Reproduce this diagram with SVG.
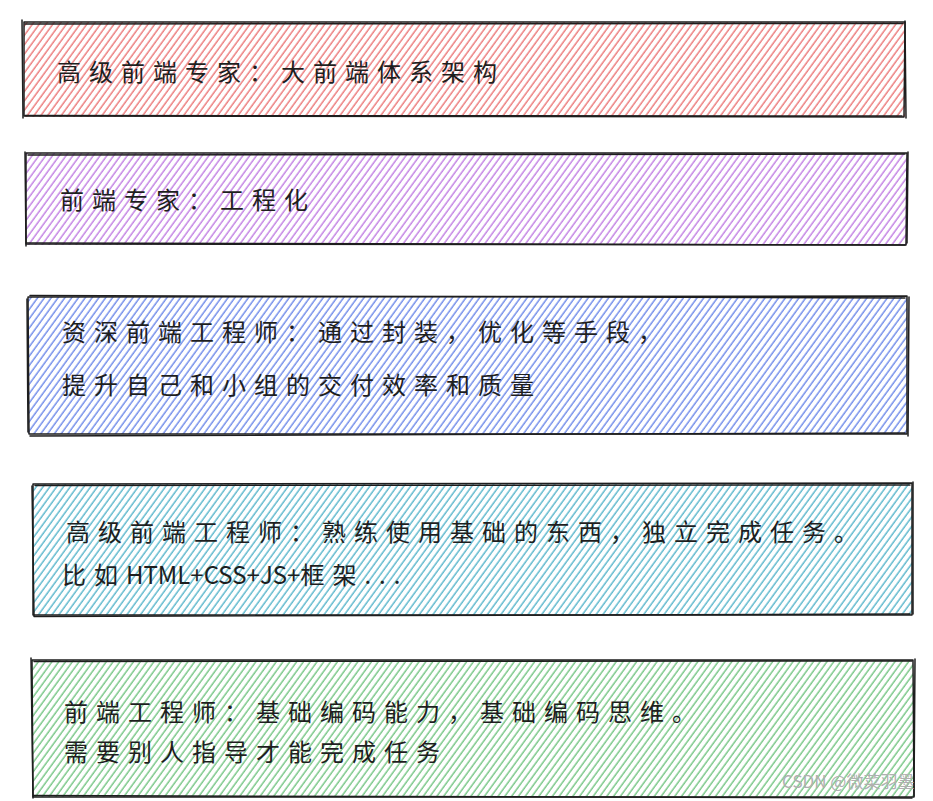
<svg xmlns="http://www.w3.org/2000/svg" width="933" height="801" viewBox="0 0 933 801">
<defs>
<pattern id="hRed" patternUnits="userSpaceOnUse" width="5.5" height="10" patternTransform="rotate(36)"><line x1="2" y1="0" x2="2" y2="10" stroke="#ec7f80" stroke-width="1.5"/></pattern>
<pattern id="hPurple" patternUnits="userSpaceOnUse" width="5.5" height="10" patternTransform="rotate(36)"><line x1="2" y1="0" x2="2" y2="10" stroke="#c486e4" stroke-width="1.5"/></pattern>
<pattern id="hBlue" patternUnits="userSpaceOnUse" width="5.5" height="10" patternTransform="rotate(36)"><line x1="2" y1="0" x2="2" y2="10" stroke="#7690ea" stroke-width="1.5"/></pattern>
<pattern id="hCyan" patternUnits="userSpaceOnUse" width="5.5" height="10" patternTransform="rotate(36)"><line x1="2" y1="0" x2="2" y2="10" stroke="#62bace" stroke-width="1.5"/></pattern>
<pattern id="hGreen" patternUnits="userSpaceOnUse" width="5.5" height="10" patternTransform="rotate(36)"><line x1="2" y1="0" x2="2" y2="10" stroke="#7cc88a" stroke-width="1.5"/></pattern>
</defs>
<style>
.b{fill:none;stroke:#1e1e1e;stroke-width:1.5;stroke-linecap:round;stroke-linejoin:round}
.t{font-family:"Noto Sans CJK SC","Liberation Sans",sans-serif;font-size:24px;letter-spacing:8px;fill:#1e1e1e}
.l{letter-spacing:0}
.wm{font-family:"Noto Sans CJK SC","Liberation Sans",sans-serif;font-size:17px;fill:#b0b0b0}
</style>
<rect width="933" height="801" fill="#ffffff"/>
<g id="node-expert-arch">
<rect x="24" y="22" width="881" height="95" fill="url(#hRed)"/>
<path class="b" d="M24 22 L905 22 L904 117 L24 116 Z"/>
<path class="b" d="M22 20 L23 118 M25 24 L903 23.5 M905 21 L906 118 M25 115.5 L902 116"/>
<text class="t" x="57" y="81">高级前端专家：大前端体系架构</text>
</g>
<g id="node-expert-eng">
<rect x="26" y="153" width="881" height="92" fill="url(#hPurple)"/>
<path class="b" d="M26 153 L907 153 L906 245 L26 244 Z"/>
<path class="b" d="M25 152 L26 246 M28 155 L905 154 M908 152 L907 243 M27 243 L905 245"/>
<text class="t" x="60" y="209">前端专家：工程化</text>
</g>
<g id="node-senior-eng">
<rect x="28" y="297" width="879" height="137" fill="url(#hBlue)"/>
<path class="b" d="M28 297 L907 296 L907 434 L29 434 Z"/>
<path class="b" d="M27 299 L28 432 M30 295.5 L905 298 M909 297 L908 436 M30 436 L905 433"/>
<text class="t" x="62" y="341">资深前端工程师：通过封装，优化等手段，</text>
<text class="t" x="62" y="394">提升自己和小组的交付效率和质量</text>
</g>
<g id="node-advanced-eng">
<rect x="33" y="484" width="879" height="131" fill="url(#hCyan)"/>
<path class="b" d="M33 484 L912 483 L912 615 L33 615 Z"/>
<path class="b" d="M32 486 L34 616 M35 485.5 L910 485 M913 482 L913 614 M34 616.5 L910 614"/>
<text class="t" x="66" y="541">高级前端工程师：熟练使用基础的东西，独立完成任务。</text>
<text class="t" x="62" y="584">比如<tspan class="l">HTML+CSS+JS+</tspan>框架...</text>
</g>
<g id="node-eng">
<rect x="32" y="660" width="881" height="137" fill="url(#hGreen)"/>
<path class="b" d="M32 660 L913 660 L914 797 L33 797 Z"/>
<path class="b" d="M31 658 L33 798 M34 661.5 L912 661 M915 659 L914 796 M34 795.5 L912 798"/>
<text class="t" x="64" y="721">前端工程师：基础编码能力，基础编码思维。</text>
<text class="t" x="64" y="761">需要别人指导才能完成任务</text>
</g>
<g id="connectors"/>
<text class="wm" x="782" y="788">CSDN @微菜羽墨</text>
</svg>
